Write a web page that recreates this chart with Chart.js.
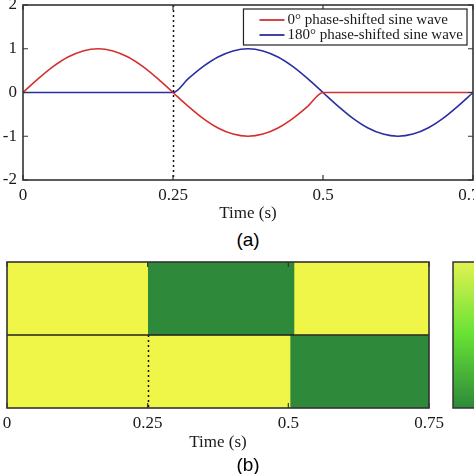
<!DOCTYPE html>
<html>
<head>
<meta charset="utf-8">
<script src="https://cdn.jsdelivr.net/npm/chart.js@4.4.1/dist/chart.umd.min.js"></script>
<style>
  html, body { margin: 0; padding: 0; background: #fff; }
  #wrap { position: relative; width: 474px; height: 474px; overflow: hidden; }
  canvas { position: absolute; left: 0; }
  #lineChart { top: 0; }
  #heatChart { top: 250px; }
  .tag { position: absolute; width: 60px; text-align: center; font-family: "Liberation Sans", Arial, sans-serif; font-size: 19px; line-height: 20px; color: #000; }
</style>
</head>
<body>
<div id="wrap">
  <canvas id="lineChart" width="474" height="228"></canvas>
  <div class="tag" style="left:218px; top:230px;">(a)</div>
  <canvas id="heatChart" width="474" height="224"></canvas>
  <div class="tag" style="left:218px; top:455px;">(b)</div>
</div>
<script>
// values
const timeS = [0, 0.025, 0.05, 0.075, 0.1, 0.125, 0.15, 0.175, 0.2, 0.225, 0.25,
               0.275, 0.3, 0.325, 0.35, 0.375, 0.4, 0.425, 0.45, 0.475, 0.5,
               0.525, 0.55, 0.575, 0.6, 0.625, 0.65, 0.675, 0.7, 0.725, 0.75];
const wave0 = [0, 0.31, 0.59, 0.81, 0.95, 1, 0.95, 0.81, 0.59, 0.31, 0,
               -0.31, -0.59, -0.81, -0.95, -1, -0.95, -0.81, -0.59, -0.31, 0,
               0, 0, 0, 0, 0, 0, 0, 0, 0, 0];
const wave180 = [0, 0, 0, 0, 0, 0, 0, 0, 0, 0, 0,
                 0.31, 0.59, 0.81, 0.95, 1, 0.95, 0.81, 0.59, 0.31, 0,
                 -0.31, -0.59, -0.81, -0.95, -1, -0.95, -0.81, -0.59, -0.31, 0];
const seriesNames = ['0\u00b0 phase-shifted sine wave', '180\u00b0 phase-shifted sine wave'];
const markerTimes = [0.25];
const xTickLabels = ['0', '0.25', '0.5', '0.75'];
const yTickLabels = ['-2', '-1', '0', '1', '2'];

// heatmap rows: segment edges (s) and level (1 = high/yellow, 0 = low/green)
const rowNames = ['0\u00b0', '180\u00b0'];
const row0Edges = [0, 0.25, 0.51, 0.75];
const row0Level = [1, 0, 1];
const row1Edges = [0, 0.503, 0.75];
const row1Level = [1, 0];

const SERIF = '"Liberation Serif", "Times New Roman", serif';
const RED = 'rgb(212,48,48)';
const BLUE = 'rgb(42,46,162)';
const YELLOW = 'rgb(240,246,72)';
const GREEN = 'rgb(46,137,58)';
const AXIS = '#333';

Chart.defaults.font.family = SERIF;
Chart.defaults.color = '#1a1a1a';

// box, inward ticks and dotted markers, MATLAB style
const frame = {
    id: 'frame',
    afterDatasetsDraw(chart, args, opts) {
        const { ctx, chartArea: a, scales } = chart;
        const x = scales.x;
        ctx.save();
        ctx.strokeStyle = '#111';
        ctx.lineWidth = 1.5;
        ctx.setLineDash([2, 3]);
        markerTimes.forEach(t => {
            const px = Math.round(x.getPixelForValue(t)) + 0.5;
            ctx.beginPath();
            ctx.moveTo(px, opts.markerFrom === 'mid' ? (a.top + a.bottom) / 2 : a.top);
            ctx.lineTo(px, a.bottom);
            ctx.stroke();
        });
        ctx.setLineDash([]);

        ctx.strokeStyle = AXIS;
        ctx.lineWidth = 1.2;
        x.ticks.forEach(tk => {
            const px = x.getPixelForValue(tk.value);
            ctx.beginPath();
            ctx.moveTo(px, a.bottom); ctx.lineTo(px, a.bottom - 5);
            ctx.moveTo(px, a.top); ctx.lineTo(px, a.top + 5);
            ctx.stroke();
        });
        if (opts.yTicks) {
            const y = scales.y;
            y.ticks.forEach(tk => {
                const py = y.getPixelForValue(tk.value);
                ctx.beginPath();
                ctx.moveTo(a.left, py); ctx.lineTo(a.left + 5, py);
                ctx.moveTo(a.right, py); ctx.lineTo(a.right - 5, py);
                ctx.stroke();
            });
        }
        if (opts.rowLines) {
            const y = scales.y;
            const py = (y.getPixelForValue(0) + y.getPixelForValue(1)) / 2;
            ctx.lineWidth = 1.3;
            ctx.strokeStyle = '#222';
            ctx.beginPath();
            ctx.moveTo(a.left, py); ctx.lineTo(a.right, py);
            ctx.stroke();
        }
        ctx.strokeStyle = AXIS;
        ctx.lineWidth = 1.6;
        ctx.strokeRect(a.left, a.top, a.width, a.height);
        ctx.restore();
    }
};

// boxed legend in the upper right corner of the plot
const boxLegend = {
    id: 'boxLegend',
    afterDatasetsDraw(chart) {
        const { ctx, chartArea: a } = chart;
        const sets = chart.data.datasets;
        ctx.save();
        ctx.font = '15px ' + SERIF;
        const tw = Math.max(...sets.map(d => ctx.measureText(d.label).width));
        const w = 16 + 25 + 3 + tw + 4;
        const h = 36;
        const left = a.right - 6 - w;
        const top = a.top + 4;
        ctx.fillStyle = '#fff';
        ctx.fillRect(left, top, w, h);
        ctx.strokeStyle = '#222';
        ctx.lineWidth = 1.2;
        ctx.strokeRect(left, top, w, h);
        sets.forEach((d, i) => {
            const cy = top + 11 + i * 15;
            ctx.strokeStyle = d.borderColor;
            ctx.lineWidth = 1.8;
            ctx.beginPath();
            ctx.moveTo(left + 16, cy); ctx.lineTo(left + 41, cy);
            ctx.stroke();
            ctx.fillStyle = '#1a1a1a';
            ctx.textBaseline = 'middle';
            ctx.fillText(d.label, left + 44, cy);
        });
        ctx.restore();
    }
};

// colour bar to the right of the heat map
const colorBar = {
    id: 'colorBar',
    afterDraw(chart) {
        const { ctx, chartArea: a } = chart;
        const left = a.right + 24;
        const g = ctx.createLinearGradient(0, a.top, 0, a.bottom);
        g.addColorStop(0, 'rgb(226,242,82)');
        g.addColorStop(0.5, 'rgb(102,226,52)');
        g.addColorStop(1, 'rgb(46,137,58)');
        ctx.save();
        ctx.fillStyle = g;
        ctx.fillRect(left, a.top, 40, a.height);
        ctx.strokeStyle = AXIS;
        ctx.lineWidth = 1.5;
        ctx.strokeRect(left, a.top, 40, a.height);
        ctx.restore();
    }
};

const noPadX = h => s => { s.height = h; s.paddingLeft = 0; s.paddingRight = 0; };
const xTitle = { display: true, text: 'Time (s)', font: { size: 17 }, padding: { top: 4, bottom: 4 } };
const xTicks = { stepSize: 0.25, padding: 5, font: { size: 17 }, maxRotation: 0,
                 callback: (v, i) => xTickLabels[i] };

new Chart(document.getElementById('lineChart').getContext('2d'), {
    type: 'line',
    data: {
        labels: timeS,
        datasets: [
            { label: seriesNames[0], data: timeS.map((t, i) => ({ x: t, y: wave0[i] })), borderColor: RED },
            { label: seriesNames[1], data: timeS.map((t, i) => ({ x: t, y: wave180[i] })), borderColor: BLUE }
        ]
    },
    options: {
        responsive: false,
        animation: false,
        layout: { padding: { top: 5, right: 1, left: 0, bottom: 0 } },
        elements: {
            point: { radius: 0 },
            line: { borderWidth: 1.6, cubicInterpolationMode: 'monotone' }
        },
        scales: {
            x: {
                type: 'linear', min: 0, max: 0.75,
                grid: { display: false, drawTicks: false },
                border: { display: false },
                ticks: xTicks,
                title: xTitle,
                afterFit: noPadX(48)
            },
            y: {
                min: -2, max: 2,
                grid: { display: false, drawTicks: false },
                border: { display: false },
                ticks: { stepSize: 1, padding: 6, font: { size: 17 }, callback: (v, i) => yTickLabels[i] },
                afterFit(s) { s.width = 23; s.paddingTop = 0; s.paddingBottom = 0; }
            }
        },
        plugins: {
            legend: { display: false },
            tooltip: { enabled: false },
            frame: { yTicks: true }
        }
    },
    plugins: [frame, boxLegend]
});

function rowDatasets(edges, levels, row) {
    return levels.map((lv, k) => ({
        data: rowNames.map((n, r) => r === row ? [edges[k], edges[k + 1]] : null),
        backgroundColor: lv ? YELLOW : GREEN,
        borderWidth: 0,
        grouped: false,
        barPercentage: 1,
        categoryPercentage: 1
    }));
}

new Chart(document.getElementById('heatChart').getContext('2d'), {
    type: 'bar',
    data: {
        labels: rowNames,
        datasets: [...rowDatasets(row0Edges, row0Level, 0), ...rowDatasets(row1Edges, row1Level, 1)]
    },
    options: {
        indexAxis: 'y',
        responsive: false,
        animation: false,
        layout: { padding: { top: 12, right: 45, left: 7, bottom: 17 } },
        scales: {
            x: {
                type: 'linear', min: 0, max: 0.75,
                grid: { display: false, drawTicks: false },
                border: { display: false },
                ticks: xTicks,
                title: xTitle,
                afterFit: noPadX(49)
            },
            y: { type: 'category', display: false }
        },
        plugins: {
            legend: { display: false },
            tooltip: { enabled: false },
            frame: { rowLines: true, markerFrom: 'mid' }
        }
    },
    plugins: [frame, colorBar]
});
</script>
</body>
</html>
